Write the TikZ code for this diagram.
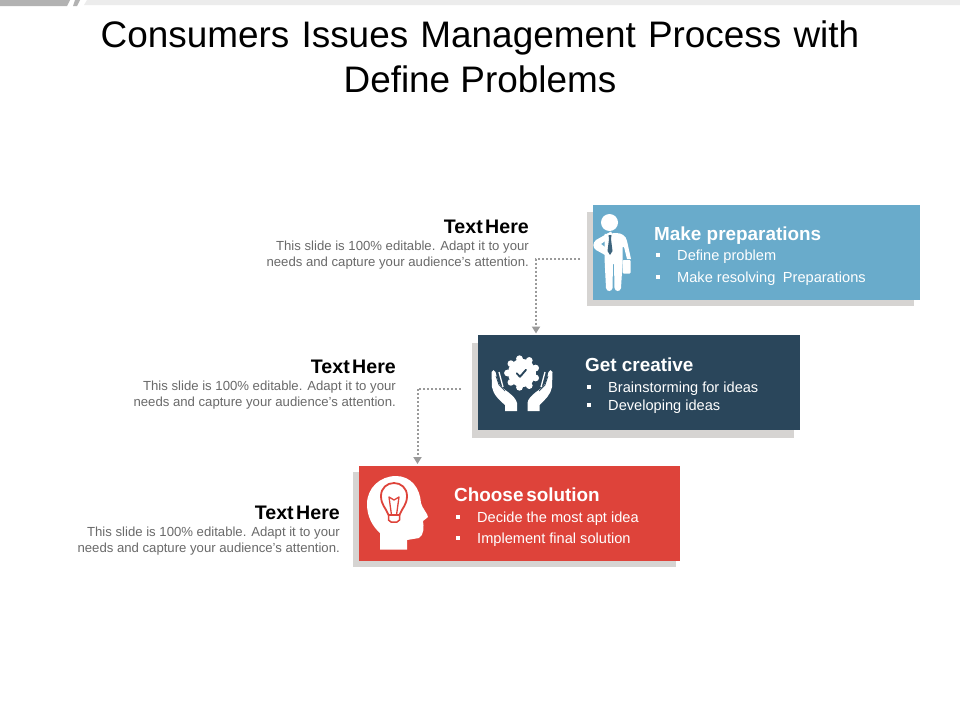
\documentclass[tikz,border=0pt]{standalone}
\usepackage{fontspec}
\setmainfont{Liberation Sans}
\usetikzlibrary{arrows.meta}
\definecolor{cblue}{HTML}{69ABCB}
\definecolor{cnavy}{HTML}{2A465B}
\definecolor{cred}{HTML}{DE433A}
\definecolor{cshadow}{HTML}{D6D4D2}
\definecolor{cbody}{HTML}{6A6A6A}
\definecolor{cdot}{HTML}{9A9A9A}
\tikzset{
 boxnode/.style={draw=none,fill=#1,minimum width=322pt,minimum height=95pt,inner sep=0pt},
 shadownode/.style={draw=none,fill=cshadow,minimum width=322pt,minimum height=95pt,inner sep=0pt},
 headtext/.style={anchor=base west,inner sep=0pt,text=white,font=\fontsize{18.9}{20}\selectfont\bfseries},
 itemtext/.style={anchor=base west,inner sep=0pt,text=white,font=\fontsize{14.6}{16}\selectfont},
 bulletmark/.style={fill=white,minimum size=4.4pt,inner sep=0pt},
 sidehead/.style={anchor=base east,inner sep=0pt,text=black,font=\fontsize{19.6}{20}\selectfont\bfseries},
 sidebody/.style={anchor=base east,inner sep=0pt,text=cbody,font=\fontsize{13.15}{14}\selectfont},
 link/.style={draw=cdot,line width=2pt,dash pattern=on 2pt off 2pt,-{Triangle[length=7pt,width=8pt,fill=cdot]}},
 titletext/.style={anchor=base,inner sep=0pt,text=black,font=\fontsize{36.9}{40}\selectfont}
}
\newcommand{\tgap}{\hspace{-3pt}}
\begin{document}
\begin{tikzpicture}[x=1pt,y=-1pt]
\useasboundingbox (0,0) rectangle (960,720);
\fill[white] (0,0) rectangle (960,720);
% top band
\fill[gray!60] (0,0) -- (70,0) -- (67,6) -- (0,6) -- cycle;
\fill[gray!60] (75,0) -- (80,0) -- (77,6) -- (73,6) -- cycle;
\fill[gray!15] (87,0) -- (960,0) -- (960,5) -- (84,5) -- cycle;
% title
\node[titletext] (t1) at (480,47) {Consumers\hspace{2pt} Issues\hspace{2pt} Management\hspace{2pt} Process\hspace{2pt} with};
\node[titletext] (t2) at (480,92) {Define Problems};
% shadows
\node[shadownode,minimum width=327pt,minimum height=94pt] (s1) at (750.5,259) {};
\node[shadownode] (s2) at (633,390.5) {};
\node[shadownode,minimum width=323pt] (s3) at (514.5,519.5) {};
% boxes
\node[boxnode=cblue,minimum width=327pt] (b1) at (756.5,252.5) {};
\node[boxnode=cnavy] (b2) at (639,382.5) {};
\node[boxnode=cred,minimum width=321pt] (b3) at (519.5,513.5) {};
% box 1 text
\node[headtext] (h1) at (654,240.5) {Make preparations};
\node[bulletmark] (m1a) at (658,255) {};
\node[bulletmark] (m1b) at (658,277) {};
\node[itemtext] (i1a) at (677,260) {Define problem};
\node[itemtext] (i1b) at (677,282) {Make resolving\hspace{3.5pt} Preparations};
% box 2 text
\node[headtext] (h2) at (585,371) {Get creative};
\node[bulletmark] (m2a) at (589,387) {};
\node[bulletmark] (m2b) at (589,405) {};
\node[itemtext] (i2a) at (608,392) {Brainstorming for ideas};
\node[itemtext] (i2b) at (608,410) {Developing ideas};
% box 3 text
\node[headtext] (h3) at (454,501) {Choose\hspace{-2.5pt} solution};
\node[bulletmark] (m3a) at (458,517) {};
\node[bulletmark] (m3b) at (458,538) {};
\node[itemtext] (i3a) at (477,522) {Decide the most apt idea};
\node[itemtext] (i3b) at (477,543) {Implement final solution};
% side texts
\node[sidehead] (a1) at (529,233) {Text\tgap{} Here};
\node[sidebody] (a2) at (529,250) {This slide is 100\% editable. Adapt it to your};
\node[sidebody] (a3) at (529,266) {needs and capture your audience's attention.};
\node[sidehead] (c1) at (396,373) {Text\tgap{} Here};
\node[sidebody] (c2) at (396,390) {This slide is 100\% editable. Adapt it to your};
\node[sidebody] (c3) at (396,406) {needs and capture your audience's attention.};
\node[sidehead] (e1) at (340,519) {Text\tgap{} Here};
\node[sidebody] (e2) at (340,536) {This slide is 100\% editable. Adapt it to your};
\node[sidebody] (e3) at (340,552) {needs and capture your audience's attention.};
% connectors
\coordinate (p1) at (580,258.5);
\coordinate (q1) at (536,333.5);
\coordinate (p2) at (461,388.5);
\coordinate (q2) at (417.5,464);
\draw[link] (p1) -| (q1);
\draw[link] (p2) -| (q2);
% businessman icon
\fill[white] (609.5,222.5) circle (8.5);
\fill[white] (604.5,234) -- (616,233) .. controls (622,233) and (626,236) .. (627,241)
 -- (631,259) -- (627,259) -- (624,247) -- (622.5,247) -- (622.5,264) -- (621,288)
 .. controls (620.5,292) and (615,292) .. (614.5,288) -- (614,264) -- (613,264) -- (612.5,288)
 .. controls (612,292) and (606.5,292) .. (606,288) -- (604.5,258) -- cycle;
\fill[white] (611,231.5) -- (613,235.5) -- (601,244) -- (605,247) -- (605,255)
 -- (596,250) .. controls (592.5,247.5) and (592.5,243) .. (596,240) -- cycle;
\fill[white,rounded corners=1pt] (622.5,260) rectangle (630.5,273.5);
\fill[cnavy!70!cblue] (608.5,235) -- (611.5,235) -- (611,239) -- (612.5,251) -- (610,255) -- (607.5,251) -- (609,239) -- cycle;
% gear and hands icon
\foreach \ang in {0,40,...,320}{
 \fill[white] (522,373) ++(\ang+20:14.5) circle (3.4);
}
\fill[white] (522,373) circle (14);
\draw[cnavy,line width=1.9pt,line cap=round,line join=round] (516.7,373.3) -- (520,376.7) -- (526,369.8);
\fill[white] (491.5,372) .. controls (492,369.5) and (495,369.5) .. (495.5,372) -- (498,382)
 .. controls (500,387) and (504,389) .. (508,392) .. controls (513,396) and (516,399) .. (517,403)
 -- (517,411) -- (505,411) -- (505,405) .. controls (499,400) and (493,394) .. (492,387) -- cycle;
\fill[white] (552.5,372) .. controls (552,369.5) and (549,369.5) .. (548.5,372) -- (546,382)
 .. controls (544,387) and (540,389) .. (536,392) .. controls (531,396) and (528,399) .. (527.5,403)
 -- (527.5,411) -- (539.5,411) -- (539.5,405) .. controls (545,400) and (551,394) .. (552,387) -- cycle;
\draw[white,line width=1.3pt] (499,372) -- (503,387);
\draw[white,line width=1.3pt] (545,372) -- (541,387);
\draw[cnavy,line width=.7pt] (496,376) -- (499,385) -- (505,391);
\draw[cnavy,line width=.7pt] (548,376) -- (545,385) -- (539,391);
% head and bulb icon
\fill[white] (380,549.5) -- (380,533) .. controls (372,526) and (367,516) .. (367,504)
 .. controls (367,488) and (380,476) .. (396,476)
 .. controls (411,476) and (420,488) .. (421,503)
 .. controls (422,508) and (428,514) .. (428,517)
 .. controls (426,519) and (424,520) .. (423,521)
 .. controls (424,527) and (424,535) .. (419,538)
 -- (407,540) -- (407,549.5) -- cycle;
\draw[cred,line width=1.8pt,line join=round] (388.5,515) .. controls (386,508) and (381,505) .. (381,496)
 .. controls (381,488) and (387,483) .. (394,483)
 .. controls (401,483) and (407,488) .. (407,496)
 .. controls (407,505) and (402,508) .. (399.5,515) -- cycle;
\draw[cred,line width=1.5pt,line join=round] (388.5,515) -- (388.5,520) -- (391,522) -- (397,522) -- (399.5,520) -- (399.5,515);
\draw[cred,line width=1.3pt,line join=round] (391.5,515) -- (389,497) -- (394,500) -- (399,497) -- (396.5,515);
\end{tikzpicture}
\end{document}
